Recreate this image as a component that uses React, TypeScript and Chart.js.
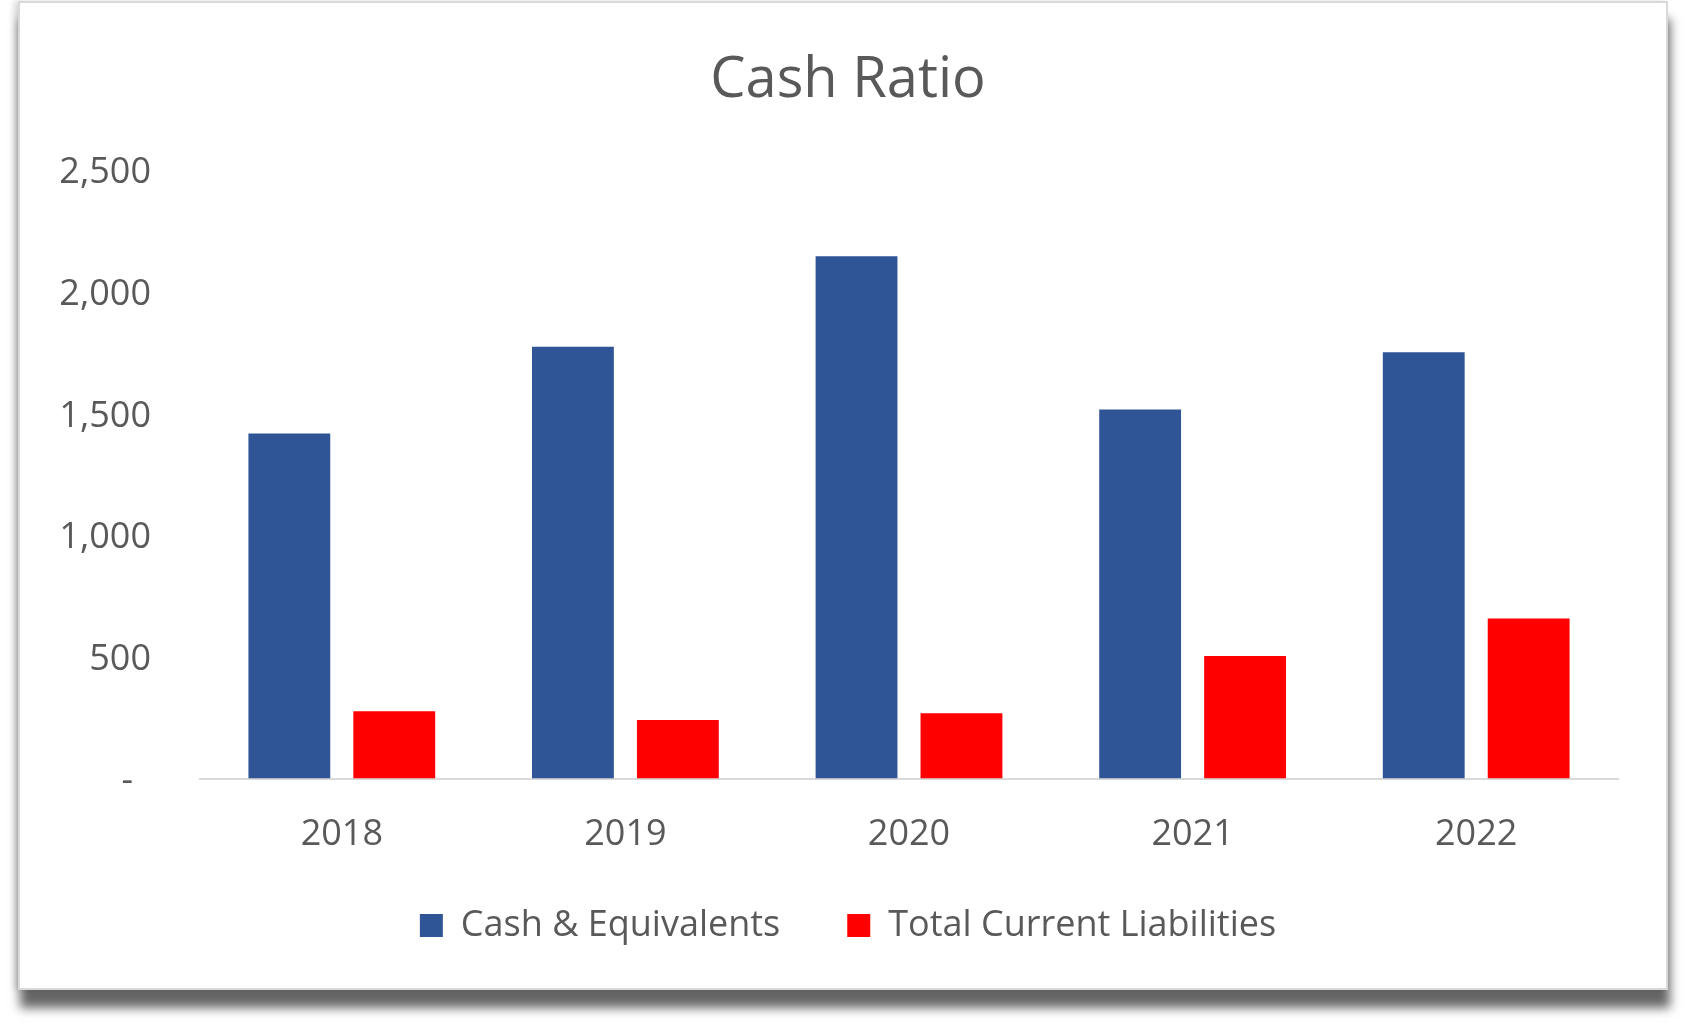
import { useEffect, useRef } from 'react'
import { Chart, registerables } from 'chart.js'

Chart.register(...registerables)

const years = ['2018', '2019', '2020', '2021', '2022']
const cashEquivalents = [1418, 1774, 2146, 1517, 1752]
const currentLiabilities = [276, 240, 268, 503, 658]
const yTickLabels = ['-\u2002', '500', '1,000', '1,500', '2,000', '2,500']

const FONT = '"Open Sans", sans-serif'
const TEXT = '#595959'

// axes are sized by hand in afterFit; widen their clip boxes so labels aren't cut
const unclipLabels = {
  id: 'unclipLabels',
  afterLayout(chart: any) {
    chart.scales.y.left = 0
    chart.scales.x.bottom = chart.height
  },
}

export default function App() {
  const canvasRef = useRef<HTMLCanvasElement>(null)

  useEffect(() => {
    if (!canvasRef.current) return
    const chart = new Chart(canvasRef.current, {
      type: 'bar',
      data: {
        labels: years,
        datasets: [
          {
            label: 'Cash & Equivalents',
            data: cashEquivalents,
            backgroundColor: '#2F5597',
            borderWidth: 0,
          },
          {
            label: 'Total Current Liabilities',
            data: currentLiabilities,
            backgroundColor: '#FF0000',
            borderWidth: 0,
          },
        ],
      },
      options: {
        animation: false,
        responsive: true,
        maintainAspectRatio: false,
        datasets: { bar: { categoryPercentage: 0.74, barPercentage: 0.78 } },
        layout: { padding: { left: 58, right: 48, top: 0, bottom: 34.5 } },
        plugins: {
          title: {
            display: true,
            text: 'Cash Ratio',
            color: TEXT,
            font: { family: FONT, size: 56, weight: 'normal', lineHeight: 1.2 },
            padding: { top: 44, bottom: 56 },
          },
          legend: {
            position: 'bottom',
            labels: {
              color: TEXT,
              font: { family: FONT, size: 36, lineHeight: 1.2 },
              boxWidth: 23,
              boxHeight: 23,
              padding: 67,
            },
          },
          tooltip: { enabled: false },
        },
        scales: {
          x: {
            grid: { display: false, drawTicks: false },
            border: { color: '#D9D9D9', width: 2 },
            ticks: { color: TEXT, font: { family: FONT, size: 36, lineHeight: 1.2 }, padding: 35 },
            afterFit: (s: any) => { s.height = 62 },
          },
          y: {
            min: 0,
            max: 2500,
            grid: { display: false, drawTicks: false },
            border: { display: false },
            ticks: {
              stepSize: 500,
              color: TEXT,
              font: { family: FONT, size: 36, lineHeight: 1.2 },
              padding: 49,
              labelOffset: 3,
              callback: (_v: number | string, i: number) => yTickLabels[i],
            },
            afterFit: (s: any) => { s.width = 122 },
          },
        },
      },
      plugins: [unclipLabels],
    })
    return () => chart.destroy()
  }, [])

  return (
    <div style={{ position: 'fixed', left: 0, top: 0, width: 1688, height: 1028, background: '#fff' }}>
      <div
        style={{
          position: 'absolute',
          left: 18,
          top: 1,
          width: 1650,
          height: 989,
          boxSizing: 'border-box',
          border: '2px solid #D9D9D9',
          background: '#fff',
          boxShadow: '2px 18px 10px rgba(0,0,0,0.6), -4px 0 6px rgba(0,0,0,0.15)',
        }}
      >
        <div style={{ position: 'absolute', inset: 0 }}>
          <canvas ref={canvasRef} />
        </div>
      </div>
    </div>
  )
}
